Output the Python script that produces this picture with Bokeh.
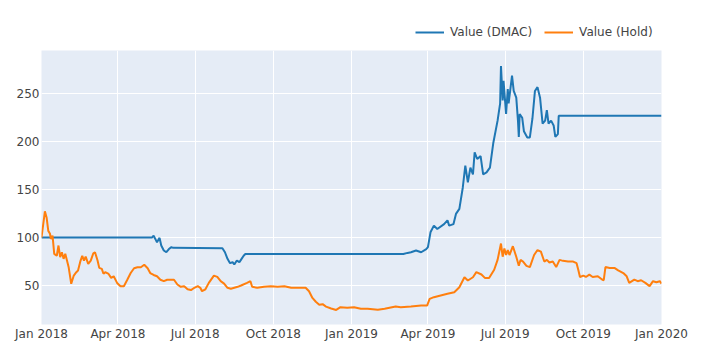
import pandas as pd
from bokeh.plotting import figure
from bokeh.layouts import column
from bokeh.models import ColumnDataSource, Range1d, FixedTicker, Legend, LegendItem
from bokeh.embed import file_html
from bokeh.resources import INLINE

# ---- data ----
dmac_dates = [
    "2018-01-01", "2018-05-11", "2018-05-13", "2018-05-15", "2018-05-17", "2018-05-20",
    "2018-05-22", "2018-05-25", "2018-05-28", "2018-05-31", "2018-06-03", "2018-06-05",
    "2018-08-02", "2018-08-05", "2018-08-08", "2018-08-11", "2018-08-14", "2018-08-16",
    "2018-08-19", "2018-08-22", "2018-08-24", "2018-08-27", "2018-08-29",
    "2019-03-03", "2019-03-08", "2019-03-12", "2019-03-18", "2019-03-24", "2019-03-30",
    "2019-04-01", "2019-04-04", "2019-04-08", "2019-04-12", "2019-04-20", "2019-04-24",
    "2019-04-26", "2019-05-01", "2019-05-04", "2019-05-08", "2019-05-12", "2019-05-15",
    "2019-05-18", "2019-05-21", "2019-05-24", "2019-05-26", "2019-05-29", "2019-06-02",
    "2019-06-05", "2019-06-09", "2019-06-13", "2019-06-17", "2019-06-22", "2019-06-25",
    "2019-06-26", "2019-06-28", "2019-06-29", "2019-07-02", "2019-07-04", "2019-07-05",
    "2019-07-09", "2019-07-11", "2019-07-14", "2019-07-16", "2019-07-17", "2019-07-18",
    "2019-07-21", "2019-07-23", "2019-07-27", "2019-07-30", "2019-08-02", "2019-08-05",
    "2019-08-08", "2019-08-11", "2019-08-14", "2019-08-17", "2019-08-19", "2019-08-21",
    "2019-08-24", "2019-08-27", "2019-08-29", "2019-09-01", "2019-09-02", "2020-01-01",
]
dmac_values = [
    100, 100, 102, 98.6, 95, 99.7,
    91.7, 86.5, 84.7, 88, 90, 89.3,
    88.8, 84.7, 77.8, 73.3, 74.3, 71.9,
    76, 74.3, 77, 81, 82.8,
    82.8, 84, 84.7, 86.5, 84.7, 88,
    90, 105.5, 112.5, 109, 114, 118,
    112.5, 114, 124.7, 130, 152, 175,
    157.6, 173, 166, 189, 182, 185,
    166, 168, 173, 199, 222, 240,
    279, 243, 263.5, 229, 255, 240,
    269, 253, 246, 222, 205, 229,
    225, 211, 204.5, 204.5, 224, 253,
    257, 246, 219, 222, 233, 219,
    222, 217, 205, 208, 227, 227,
]

hold_dates = [
    "2018-01-01", "2018-01-05", "2018-01-07", "2018-01-09", "2018-01-11", "2018-01-12",
    "2018-01-14", "2018-01-16", "2018-01-19", "2018-01-21", "2018-01-23", "2018-01-25",
    "2018-01-27", "2018-01-29", "2018-01-31", "2018-02-02", "2018-02-05", "2018-02-08",
    "2018-02-11", "2018-02-13", "2018-02-16", "2018-02-18", "2018-02-20", "2018-02-22",
    "2018-02-25", "2018-02-28", "2018-03-03", "2018-03-05", "2018-03-08", "2018-03-10",
    "2018-03-13", "2018-03-15", "2018-03-17", "2018-03-21", "2018-03-24", "2018-03-27",
    "2018-03-31", "2018-04-04", "2018-04-08", "2018-04-12", "2018-04-16", "2018-04-20",
    "2018-04-24", "2018-04-28", "2018-05-02", "2018-05-06", "2018-05-09", "2018-05-13",
    "2018-05-17", "2018-05-21", "2018-05-25", "2018-05-29", "2018-06-02", "2018-06-06",
    "2018-06-10", "2018-06-14", "2018-06-18", "2018-06-22", "2018-06-26", "2018-06-30",
    "2018-07-04", "2018-07-07", "2018-07-09", "2018-07-13", "2018-07-17", "2018-07-23",
    "2018-07-27", "2018-07-31", "2018-08-04", "2018-08-08", "2018-08-12", "2018-08-16",
    "2018-08-20", "2018-08-24", "2018-08-31", "2018-09-04", "2018-09-06", "2018-09-12",
    "2018-09-20", "2018-09-28", "2018-10-06", "2018-10-14", "2018-10-22", "2018-10-30",
    "2018-11-08", "2018-11-12", "2018-11-16", "2018-11-20", "2018-11-24", "2018-11-28",
    "2018-12-02", "2018-12-08", "2018-12-14", "2018-12-19", "2018-12-27", "2019-01-04",
    "2019-01-12", "2019-01-20", "2019-02-01", "2019-02-09", "2019-02-22", "2019-02-28",
    "2019-03-12", "2019-03-24", "2019-03-31", "2019-04-03", "2019-04-08", "2019-04-16",
    "2019-04-24", "2019-05-02", "2019-05-08", "2019-05-14", "2019-05-18", "2019-05-24",
    "2019-05-28", "2019-06-03", "2019-06-07", "2019-06-12", "2019-06-18", "2019-06-22",
    "2019-06-26", "2019-06-28", "2019-06-30", "2019-07-02", "2019-07-04", "2019-07-06",
    "2019-07-10", "2019-07-14", "2019-07-17", "2019-07-19", "2019-07-22", "2019-07-26",
    "2019-07-30", "2019-08-04", "2019-08-08", "2019-08-12", "2019-08-16", "2019-08-19",
    "2019-08-22", "2019-08-26", "2019-08-30", "2019-09-03", "2019-09-07", "2019-09-13",
    "2019-09-19", "2019-09-23", "2019-09-25", "2019-09-27", "2019-10-01", "2019-10-04",
    "2019-10-08", "2019-10-12", "2019-10-18", "2019-10-23", "2019-10-25", "2019-10-27",
    "2019-11-01", "2019-11-07", "2019-11-11", "2019-11-17", "2019-11-21", "2019-11-24",
    "2019-11-30", "2019-12-04", "2019-12-08", "2019-12-13", "2019-12-18", "2019-12-22",
    "2019-12-26", "2019-12-30", "2020-01-01",
]
hold_values = [
    100, 127.4, 121, 107, 104, 98.6,
    102, 83, 81, 91.7, 79.5, 84.7,
    77.8, 83, 76, 69, 51.8, 60.4,
    63.9, 65.6, 76, 81, 76, 80.2,
    72.6, 76, 83.6, 84.7, 76, 68.4,
    67.4, 62.2, 63.9, 62, 58, 59.6,
    52.7, 49.3, 49.3, 56, 63, 68,
    69, 69, 71.6, 68, 63, 61,
    59.6, 56, 54.5, 56, 56, 56,
    51, 48.6, 49.3, 46, 45.2, 47.6,
    49.3, 47.6, 44, 46, 52.7, 60.3,
    59, 54.5, 52, 47.6, 46.6, 47.6,
    48.6, 50, 52.7, 54.5, 48.6, 47.6,
    48.6, 49.3, 48.6, 49.3, 47.6, 47.6,
    47.6, 44, 37, 33, 30, 30.5,
    28, 26, 24.5, 27.4, 26.8, 27.4,
    25.7, 25.7, 24.7, 25.7, 28, 27.4,
    28, 29, 29, 36, 37.8, 39.6,
    41.3, 43, 48.2, 58.6, 55.2, 58.6,
    63.9, 61.5, 57.9, 57.9, 66.4, 76.7,
    93.8, 80, 88.7, 81.8, 87, 81.8,
    91, 80, 70.5, 76.7, 75, 70.5,
    69.2, 81.8, 87, 85.3, 75, 76.7,
    74, 75, 69.2, 76.7, 75.7, 75,
    75, 73.3, 66.4, 58.9, 60.3, 58.9,
    61.3, 58.9, 59.6, 56.2, 55.5, 69.2,
    68.2, 68.2, 65.8, 63, 59.6, 52.7,
    56.2, 54.5, 55.5, 52.7, 49.3, 54.5,
    53.4, 54.5, 52,
]

tick_dates = ["2018-01-01", "2018-04-01", "2018-07-01", "2018-10-01", "2019-01-01",
              "2019-04-01", "2019-07-01", "2019-10-01", "2020-01-01"]
tick_labels = ["Jan 2018", "Apr 2018", "Jul 2018", "Oct 2018", "Jan 2019",
               "Apr 2019", "Jul 2019", "Oct 2019", "Jan 2020"]
y_ticks = [50, 100, 150, 200, 250]
series_names = ["Value (DMAC)", "Value (Hold)"]
series_colors = ["#1f77b4", "#ff7f0e"]

FONT = "DejaVu Sans"
TEXT = "#444444"
NAN = float("nan")

# ---- legend strip (top) ----
top = figure(width=690, height=50, x_range=Range1d(0, 1), y_range=Range1d(0, 1),
             x_axis_type=None, y_axis_type=None, output_backend="svg",
             toolbar_location=None, min_border_left=41, min_border_right=29,
             min_border_top=0, min_border_bottom=0)
top.background_fill_color = "white"
top.border_fill_color = "white"
top.outline_line_color = None
top.grid.visible = False
k1 = top.line(x=[NAN], y=[NAN], line_color=series_colors[0], line_width=2)
k2 = top.line(x=[NAN], y=[NAN], line_color=series_colors[1], line_width=2)
legend = Legend(items=[LegendItem(label=series_names[0], renderers=[k1]),
                       LegendItem(label=series_names[1], renderers=[k2])],
                orientation="horizontal", location=(374, 8),
                glyph_width=29, glyph_height=20, label_height=20,
                label_standoff=6, spacing=12, padding=0, margin=0,
                border_line_color=None, background_fill_alpha=0,
                label_text_font=FONT, label_text_font_size="12px",
                label_text_color=TEXT)
top.add_layout(legend)

# ---- main chart ----
dmac_src = ColumnDataSource(dict(x=pd.to_datetime(dmac_dates), y=dmac_values))
hold_src = ColumnDataSource(dict(x=pd.to_datetime(hold_dates), y=hold_values))

p = figure(width=690, height=293, x_axis_type="datetime",
           x_range=Range1d(pd.Timestamp("2018-01-01"), pd.Timestamp("2020-01-01")),
           y_range=Range1d(9.3, 295.2),
           output_backend="svg", toolbar_location=None,
           min_border_left=41, min_border_right=29, min_border_top=0, min_border_bottom=18)
p.background_fill_color = "#E5ECF6"
p.border_fill_color = "white"
p.outline_line_color = None

p.line("x", "y", source=dmac_src, line_color=series_colors[0], line_width=2)
p.line("x", "y", source=hold_src, line_color=series_colors[1], line_width=2)

tick_ms = [int(pd.Timestamp(d).value // 10**6) for d in tick_dates]
p.xaxis.ticker = FixedTicker(ticks=tick_ms)
p.xaxis.major_label_overrides = {t: lab for t, lab in zip(tick_ms, tick_labels)}
p.yaxis.ticker = FixedTicker(ticks=y_ticks)

for ax in (p.xaxis, p.yaxis):
    ax.axis_line_color = None
    ax.major_tick_line_color = None
    ax.minor_tick_line_color = None
    ax.major_tick_out = 0
    ax.major_tick_in = 0
    ax.minor_tick_out = 0
    ax.major_label_text_font = FONT
    ax.major_label_text_font_size = "12px"
    ax.major_label_text_color = TEXT
    ax.major_label_standoff = 2

p.grid.grid_line_color = "white"
p.grid.grid_line_width = 1
p.xgrid.minor_grid_line_color = None

layout = column(top, p, spacing=0)
open("out.html", "w").write(file_html(layout, INLINE))
